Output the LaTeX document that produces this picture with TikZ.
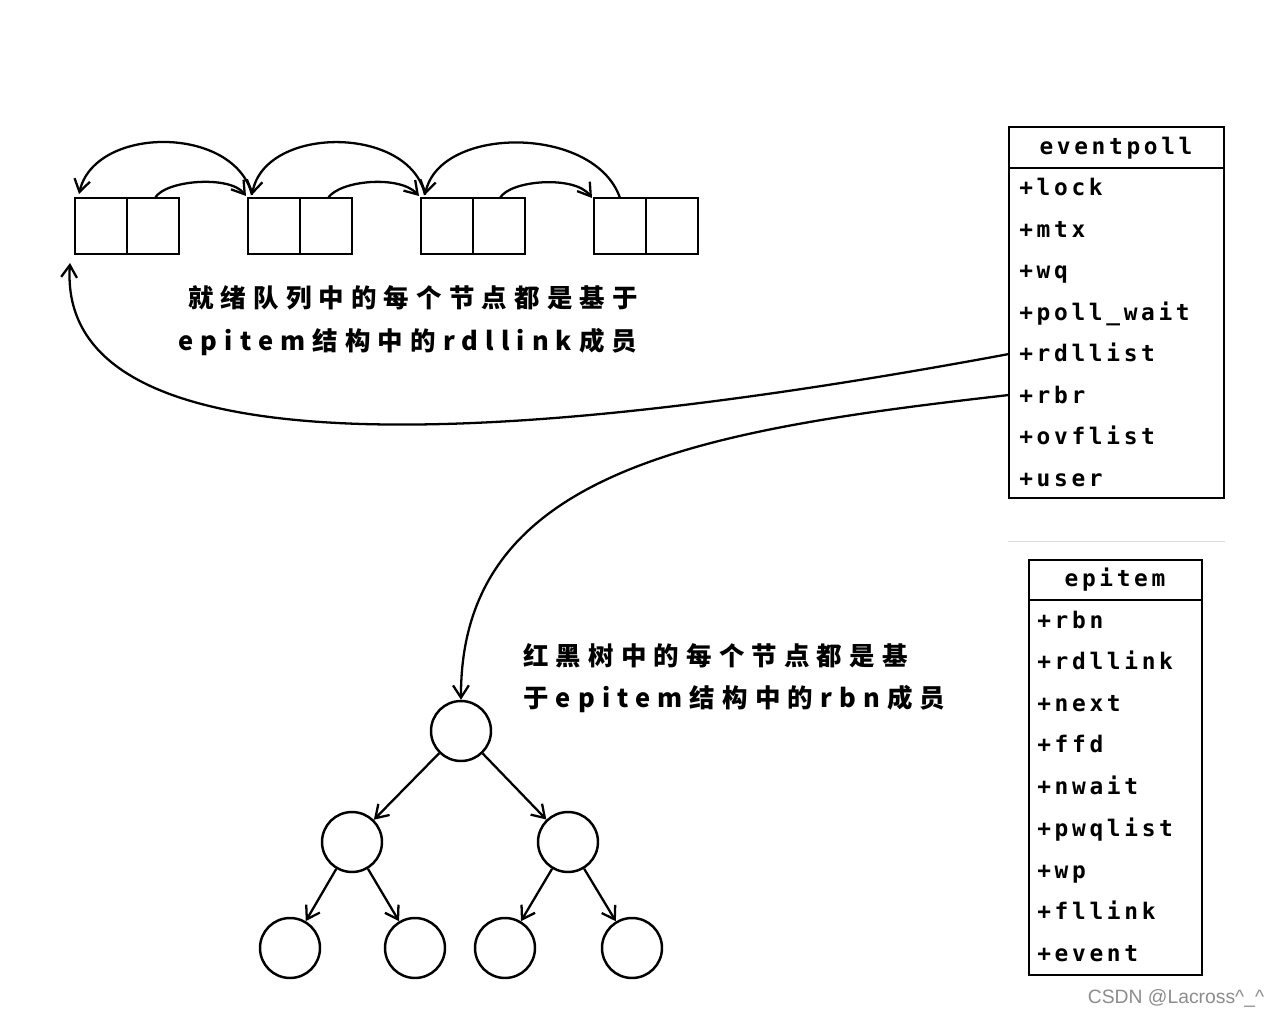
\documentclass[tikz,border=0pt]{standalone}
\usepackage{fontspec}
\usetikzlibrary{arrows.meta}
\newfontfamily\cjk[LetterSpace=28]{Noto Sans CJK SC}
\newfontfamily\mono[LetterSpace=16]{DejaVu Sans Mono}
\begin{document}
\begin{tikzpicture}[x=0.02cm,y=-0.02cm,
  box/.style={draw,line width=1.4pt},
  arr/.style={line width=1.3pt,-{Straight Barb[length=7pt,width=9pt]}},
  cn/.style={font=\cjk\bfseries\fontsize{14.5}{16}\selectfont,inner sep=0pt,text height=11pt,text depth=3pt},
  it/.style={font=\mono\bfseries\fontsize{13}{15}\selectfont,anchor=west,inner sep=0pt,text height=10pt,text depth=3pt},
  circ/.style={draw,circle,line width=1.4pt,minimum size=1.2cm,inner sep=0pt}]
\useasboundingbox (0,0) rectangle (1288,1020);
% list boxes
\foreach \x in {75,248,421,594}{
  \draw[box] (\x,198) rectangle ++(104,56);
  \draw[box] (\x+52,198) -- (\x+52,254);
}
\coordinate (al) at (79,194);
\coordinate (bl) at (252,195);
\coordinate (cl) at (425,195);
\coordinate (dl) at (620,198);
\coordinate (ar) at (155,198);
\coordinate (br) at (328,198);
\coordinate (cr) at (500,198);
\coordinate (bt) at (246,196);
\coordinate (ct) at (419,196);
\coordinate (dt) at (592,198);
\draw[arr] (bl) .. controls (235,125) and (95,125) .. (al);
\draw[arr] (cl) .. controls (410,125) and (265,125) .. (bl);
\draw[arr] (dl) .. controls (595,125) and (440,125) .. (cl);
\draw[arr] (ar) .. controls (165,180) and (230,175) .. (bt);
\draw[arr] (br) .. controls (340,180) and (400,175) .. (ct);
\draw[arr] (cr) .. controls (510,180) and (575,175) .. (dt);
% eventpoll table
\draw[box] (1009,127) rectangle (1224,498);
\draw[box] (1009,168) -- (1224,168);
\node[it,anchor=center] (ep) at (1116,148) {eventpoll};
\node[it] (e1) at (1019,189) {+lock};
\node[it] (e2) at (1019,231) {+mtx};
\node[it] (e3) at (1019,272) {+wq};
\node[it] (e4) at (1019,314) {+poll\_wait};
\node[it] (e5) at (1019,355) {+rdllist};
\node[it] (e6) at (1019,397) {+rbr};
\node[it] (e7) at (1019,438) {+ovflist};
\node[it] (e8) at (1019,480) {+user};
% epitem table
\draw[line width=0.4pt,black!15] (1008,541) -- (1225,541);
\draw[box] (1029,560) rectangle (1202,975);
\draw[box] (1029,600) -- (1202,600);
\node[it,anchor=center] (ei) at (1115,580) {epitem};
\node[it] (i1) at (1037,622) {+rbn};
\node[it] (i2) at (1037,663) {+rdllink};
\node[it] (i3) at (1037,705) {+next};
\node[it] (i4) at (1037,746) {+ffd};
\node[it] (i5) at (1037,788) {+nwait};
\node[it] (i6) at (1037,830) {+pwqlist};
\node[it] (i7) at (1037,872) {+wp};
\node[it] (i8) at (1037,913) {+fllink};
\node[it] (i9) at (1037,955) {+event};
% texts
\node[cn] (t1) at (413,300) {就绪队列中的每个节点都是基于};
\node[cn] (t2) at (408,343) {epitem结构中的rdllink成员};
\node[cn,anchor=west] (t3) at (523,658) {红黑树中的每个节点都是基};
\node[cn,anchor=west] (t4) at (523,700) {于epitem结构中的rbn成员};
% tree
\node[circ] (r) at (461,731) {};
\node[circ] (m1) at (352,842) {};
\node[circ] (m2) at (568,842) {};
\node[circ] (l1) at (290,948) {};
\node[circ] (l2) at (415,948) {};
\node[circ] (l3) at (505,948) {};
\node[circ] (l4) at (632,948) {};
\draw[arr] (r) -- (m1); \draw[arr] (r) -- (m2);
\draw[arr] (m1) -- (l1); \draw[arr] (m1) -- (l2);
\draw[arr] (m2) -- (l3); \draw[arr] (m2) -- (l4);
% long curves
\coordinate (p1) at (1009,354);
\coordinate (p2) at (1009,395);
\coordinate (q1) at (70,263);
\draw[arr] (p1) .. controls (600,430) and (55,495) .. (q1);
\draw[arr] (p2) .. controls (700,430) and (460,470) .. (r.north);
\node[font=\fontspec{Liberation Sans}\fontsize{11}{13}\selectfont,text=black!45] (w) at (1176,998) {CSDN @Lacross\^{}\_\^{}};
\end{tikzpicture}
\end{document}
